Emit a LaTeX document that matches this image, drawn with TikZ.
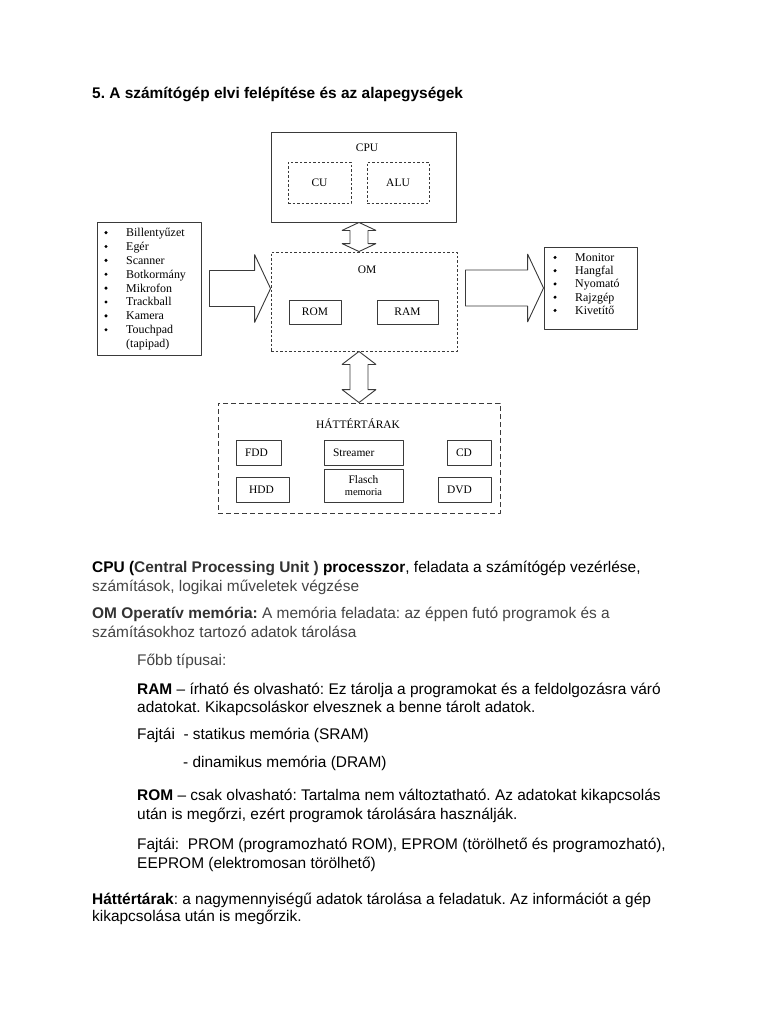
\documentclass[tikz,border=0pt]{standalone}
\usepackage{fontspec}
\setmainfont{Liberation Sans}
\newfontfamily\diagfont{Liberation Serif}
\usetikzlibrary{calc}
\definecolor{boxline}{HTML}{3A3A3A}
\definecolor{txtgray}{HTML}{444444}
\definecolor{hdgray}{HTML}{333333}
\frenchspacing
% hollow double arrow, top point, bottom point, head length
\newcommand\dblarrow[3]{%
  \draw [hollow] let \p1=#1, \p2=#2 in
    (\p1) -- ++(17,#3) -- ++(-8,0) -- (\x1+9bp,\y2+#3bp) -- ++(8,0) -- (\p2)
    -- ++(-17,-#3) -- ++(8,0) -- (\x1-9bp,\y1-#3bp) -- ++(-8,0) -- cycle;}
% hollow arrow to the right, tail point, tip point
\newcommand\widearrow[2]{%
  \draw [hollow] let \p1=#1, \p2=#2 in
    (\x1,\y2+18bp) -- (\x2-16bp,\y2+18bp) -- (\x2-16bp,\y2+34bp) -- (\p2)
    -- (\x2-16bp,\y2-34bp) -- (\x2-16bp,\y2-18bp) -- (\x1,\y2-18bp) -- cycle;}
\begin{document}
\begin{tikzpicture}[x=1bp,y=-1bp,line join=bevel,
  box/.style={draw=boxline,line width=0.9bp,inner sep=0pt,font=\diagfont\fontsize{11.5}{12}\selectfont},
  dashbox/.style={box,dash pattern=on 2.5bp off 2bp},
  longdash/.style={box,dash pattern=on 5bp off 3bp},
  leftbox/.style={box,inner xsep=9bp,align=left},
  hollow/.style={draw=boxline,line width=0.9bp,fill=white},
  diag/.style={inner sep=0pt,font=\diagfont\fontsize{11.5}{12}\selectfont},
  listitem/.style={inner sep=0pt,anchor=base west,font=\diagfont\fontsize{12}{12}\selectfont},
  txt/.style={anchor=base west,inner sep=0pt,font=\fontsize{15.5}{18}\selectfont},
]
\fill [white] (0,0) rectangle (768,1024);
\useasboundingbox (0,0) rectangle (768,1024);
%%
\node (node_title) at (92,98) [txt] {\bfseries 5. A számítógép elvi felépítése és az alapegységek};
%
\node (node_cpu) at (363.5,177) [box,minimum width=185bp,minimum height=90bp] {};
  \node (node_cpulabel) at (367,148) [diag] {CPU};
  \node (node_cu) at (319.5,182.5) [dashbox,minimum width=63bp,minimum height=41bp] {CU};
  \node (node_alu) at (398,182.5) [dashbox,minimum width=62bp,minimum height=41bp] {ALU};
\node (node_om) at (364,301.5) [dashbox,minimum width=186bp,minimum height=99bp] {};
  \node (node_omlabel) at (367,270) [diag] {OM};
  \node (node_rom) at (315,312) [box,minimum width=52bp,minimum height=24bp] {ROM};
  \node (node_ram) at (407.5,312) [box,minimum width=61bp,minimum height=24bp] {RAM};
\node (node_htt) at (359,458) [longdash,minimum width=282bp,minimum height=110bp] {};
  \node (node_httlabel) at (358,424) [diag] {HÁTTÉRTÁRAK};
  \node (node_fdd) at (258.5,452.5) [leftbox,text width=27bp,minimum height=25bp] {FDD};
  \node (node_streamer) at (363.5,452.5) [leftbox,text width=61bp,minimum height=25bp] {Streamer};
  \node (node_cd) at (469,452.5) [leftbox,text width=26bp,minimum height=25bp] {CD};
  \node (node_hdd) at (262.5,489.5) [leftbox,inner xsep=13bp,text width=27bp,minimum height=25bp] {HDD};
  \node (node_flash) at (363.5,485.5) [box,align=center,minimum width=79bp,minimum height=33bp] {Flasch\\{\fontsize{10.5}{11}\selectfont memoria}};
  \node (node_dvd) at (464.5,489.5) [leftbox,text width=35bp,minimum height=25bp] {DVD};
%
\node (node_in) at (149,288.5) [box,minimum width=104bp,minimum height=133bp] {};
\foreach \dev [count=\i] in {Billentyűzet,Egér,Scanner,Botkormány,Mikrofon,Trackball,Kamera,Touchpad} {
  \node (node_in\i) at (126,222.7+13.875*\i) [listitem] {\dev};
  \fill [black] (106,218.7+13.875*\i) circle (1.7);
}
\node (node_in9) at (126,347.5) [listitem] {(tapipad)};
\node (node_out) at (590.5,288) [box,minimum width=93bp,minimum height=82bp] {};
\foreach \dev [count=\i] in {Monitor,Hangfal,Nyomató,Rajzgép,Kivetítő} {
  \node (node_out\i) at (575,248.2+13.25*\i) [listitem] {\dev};
  \fill [black] (555,244.2+13.25*\i) circle (1.7);
}
%
\widearrow{($(node_in.east)+(8,0)$)}{(node_om.west |- node_in.east)}
\widearrow{($(node_om.east |- node_out.west)+(8,0)$)}{(node_out.west)}
\dblarrow{(node_cpu.south -| node_htt.north)}{(node_om.north -| node_htt.north)}{8}
\dblarrow{(node_om.south -| node_htt.north)}{(node_htt.north)}{13}
%%
\node (node_l1) at (92,572) [txt] {\textbf{CPU (\textcolor{hdgray}{Central Processing Unit )} processzor}, feladata a számítógép vezérlése,};
\node (node_l2) at (92,591) [txt,txtgray] {számítások, logikai műveletek végzése};
\node (node_l3) at (92,618) [txt,txtgray] {\textbf{\textcolor{hdgray}{OM Operatív memória:}} A memória feladata: az éppen futó programok és a};
\node (node_l4) at (92,637) [txt,txtgray] {számításokhoz tartozó adatok tárolása};
\node (node_l5) at (137,665) [txt,txtgray] {Főbb típusai:};
\node (node_l6) at (137,694) [txt] {\textbf{RAM} – írható és olvasható: Ez tárolja a programokat és a feldolgozásra váró};
\node (node_l7) at (137,712) [txt] {adatokat. Kikapcsoláskor elvesznek a benne tárolt adatok.};
\node (node_l8) at (137,739) [txt] {Fajtái\ \ - statikus memória (SRAM)};
\node (node_l9) at (183,767) [txt] {- dinamikus memória (DRAM)};
\node (node_l10) at (137,800) [txt] {\textbf{ROM} – csak olvasható: Tartalma nem változtatható. Az adatokat kikapcsolás};
\node (node_l11) at (137,819) [txt] {után is megőrzi, ezért programok tárolására használják.};
\node (node_l12) at (137,849) [txt] {Fajtái:\ \ PROM (programozható ROM), EPROM (törölhető és programozható),};
\node (node_l13) at (137,868) [txt] {EEPROM (elektromosan törölhető)};
\node (node_l14) at (92,904) [txt] {\textbf{Háttértárak}: a nagymennyiségű adatok tárolása a feladatuk. Az információt a gép};
\node (node_l15) at (92,921) [txt] {kikapcsolása után is megőrzik.};
%
\end{tikzpicture}
\end{document}
